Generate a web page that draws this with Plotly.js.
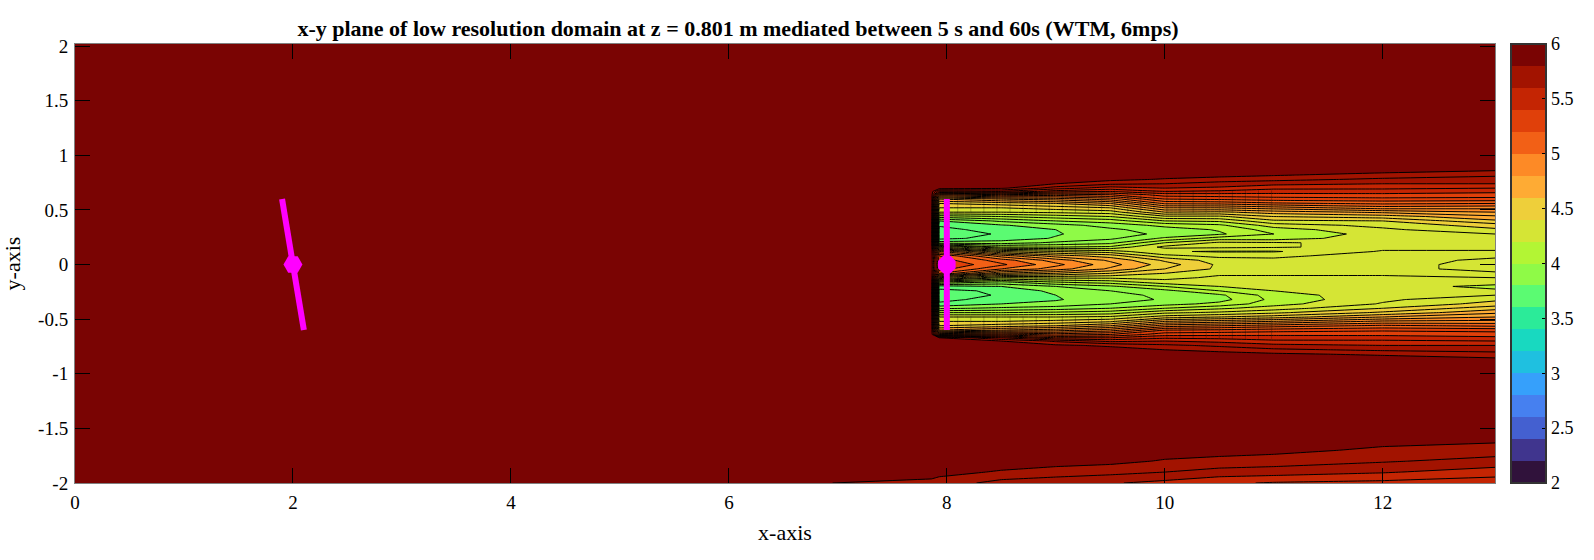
<!DOCTYPE html>
<html><head><meta charset="utf-8">
<script src="https://cdn.plot.ly/plotly-3.0.1.min.js"></script>
<style>html,body{margin:0;padding:0;background:#fff}#c{width:1594px;height:560px}</style>
</head><body><div id="c"></div>
<script>
const titleText = 'x-y plane of low resolution domain at z = 0.801 m mediated between 5 s and 60s (WTM, 6mps)';
const xColumns = [0, 6.8, 7.86, 7.93, 8.5, 9, 9.5, 10, 10.5, 11, 12, 13.03];
const yRows = [2.02,1,0.9,0.86,0.82,0.78,0.74,0.7,0.67,0.64,0.6,0.56,0.52,0.48,0.44,0.4,0.36,0.32,0.28,0.24,0.2,0.16,0.12,0.08,0.04,0,
 -0.04,-0.08,-0.12,-0.16,-0.2,-0.24,-0.28,-0.32,-0.36,-0.4,-0.44,-0.48,-0.52,-0.56,-0.6,-0.64,-0.67,-0.7,-0.74,-0.78,-0.82,-0.86,-0.9,-1,-1.5,-1.6,-1.7,-1.8,-1.9,-2];
const speed = [
[5.85,5.85,5.85,5.85,5.85,5.85,5.85,5.85,5.85,5.85,5.85,5.85],
[5.85,5.85,5.85,5.85,5.85,5.85,5.85,5.85,5.85,5.85,5.85,5.85],
[5.85,5.85,5.85,5.85,5.85,5.85,5.85,5.85,5.85,5.85,5.85,5.85],
[5.85,5.85,5.85,5.85,5.85,5.85,5.85,5.85,5.85,5.85,5.84,5.8],
[5.85,5.85,5.85,5.85,5.85,5.85,5.85,5.85,5.84,5.81,5.76,5.72],
[5.85,5.85,5.85,5.85,5.85,5.85,5.83,5.79,5.75,5.73,5.68,5.65],
[5.85,5.85,5.85,5.85,5.85,5.8,5.72,5.7,5.66,5.63,5.6,5.6],
[5.85,5.85,5.85,5.85,5.82,5.65,5.55,5.6,5.58,5.52,5.52,5.5],
[5.85,5.85,5.85,5.55,5.6,5.45,5.4,5.5,5.48,5.45,5.44,5.42],
[5.85,5.85,5.85,5.1,5.2,5.15,5.2,5.35,5.36,5.37,5.38,5.37],
[5.85,5.85,5.85,4.7,4.8,4.85,4.95,5.2,5.22,5.25,5.27,5.26],
[5.85,5.85,5.85,4.5,4.55,4.6,4.7,5.02,5.03,5.08,5.12,5.1],
[5.85,5.85,5.85,4.4,4.4,4.45,4.5,4.8,4.8,4.85,4.95,4.93],
[5.85,5.85,5.85,4.3,4.3,4.32,4.35,4.6,4.58,4.65,4.72,4.8],
[5.85,5.85,5.85,4.05,4.1,4.15,4.2,4.38,4.38,4.5,4.55,4.68],
[5.85,5.85,5.85,3.8,3.92,4,4.05,4.2,4.22,4.38,4.4,4.58],
[5.85,5.85,5.85,3.71,3.79,3.86,3.94,4.03,4.08,4.25,4.33,4.45],
[5.85,5.85,5.85,3.67,3.74,3.8,3.88,3.95,4.01,4.15,4.28,4.38],
[5.85,5.85,5.85,3.65,3.71,3.79,3.86,3.92,3.985,4.1,4.25,4.3],
[5.85,5.85,5.85,3.67,3.74,3.81,3.88,4.02,4.15,4.15,4.26,4.27],
[5.85,5.85,5.85,3.85,3.85,3.92,3.97,4.2,4.32,4.31,4.27,4.26],
[5.85,5.85,5.85,4.4,4.1,4.1,4.12,4.33,4.32,4.31,4.27,4.27],
[5.85,5.85,5.85,4.9,4.5,4.4,4.35,4.21,4.19,4.19,4.31,4.31],
[5.85,5.85,5.85,5.2,4.85,4.65,4.55,4.33,4.27,4.29,4.32,4.31],
[5.85,5.85,5.85,5.25,5.05,4.85,4.68,4.48,4.35,4.31,4.32,4.29],
[5.85,5.85,5.85,5.3,5.12,4.93,4.74,4.55,4.38,4.33,4.33,4.27],
[5.85,5.85,5.85,5.25,5,4.85,4.68,4.5,4.38,4.33,4.32,4.28],
[5.85,5.85,5.85,5.1,4.7,4.6,4.5,4.4,4.32,4.31,4.31,4.31],
[5.85,5.85,5.85,4.6,4.3,4.32,4.32,4.33,4.28,4.29,4.29,4.3],
[5.85,5.85,5.85,4.1,3.98,4.1,4.15,4.26,4.28,4.28,4.27,4.25],
[5.85,5.85,5.85,3.75,3.8,3.9,3.98,4.1,4.2,4.27,4.25,4.17],
[5.85,5.85,5.85,3.67,3.72,3.83,3.9,3.97,4.1,4.2,4.26,4.22],
[5.85,5.85,5.85,3.65,3.71,3.8,3.87,3.92,3.98,4.15,4.27,4.3],
[5.85,5.85,5.85,3.67,3.74,3.79,3.86,3.91,3.96,4.13,4.28,4.38],
[5.85,5.85,5.85,3.72,3.8,3.83,3.9,3.96,4.03,4.16,4.31,4.44],
[5.85,5.85,5.85,3.88,3.92,3.95,4,4.1,4.18,4.25,4.4,4.56],
[5.85,5.85,5.85,4.1,4.1,4.12,4.15,4.28,4.32,4.38,4.52,4.68],
[5.85,5.85,5.85,4.3,4.3,4.3,4.32,4.45,4.5,4.55,4.7,4.8],
[5.85,5.85,5.85,4.4,4.4,4.43,4.48,4.7,4.75,4.8,4.92,4.93],
[5.85,5.85,5.85,4.5,4.55,4.6,4.7,4.95,5,5.05,5.12,5.08],
[5.85,5.85,5.85,4.7,4.8,4.85,4.95,5.2,5.22,5.25,5.28,5.26],
[5.85,5.85,5.85,5.2,5.25,5.15,5.2,5.36,5.37,5.38,5.38,5.36],
[5.85,5.85,5.85,5.8,5.6,5.4,5.4,5.48,5.47,5.45,5.44,5.42],
[5.85,5.85,5.85,5.85,5.8,5.68,5.57,5.6,5.57,5.52,5.52,5.5],
[5.85,5.85,5.85,5.85,5.85,5.82,5.78,5.72,5.68,5.63,5.6,5.6],
[5.85,5.85,5.85,5.85,5.85,5.85,5.85,5.8,5.76,5.72,5.68,5.66],
[5.85,5.85,5.85,5.85,5.85,5.85,5.85,5.85,5.85,5.82,5.78,5.74],
[5.85,5.85,5.85,5.85,5.85,5.85,5.85,5.85,5.85,5.85,5.85,5.81],
[5.85,5.85,5.85,5.85,5.85,5.85,5.85,5.85,5.85,5.85,5.85,5.85],
[5.85,5.85,5.85,5.85,5.85,5.85,5.85,5.85,5.85,5.85,5.85,5.85],
[5.85,5.85,5.85,5.85,5.85,5.85,5.85,5.85,5.85,5.85,5.85,5.85],
[5.85,5.85,5.85,5.85,5.85,5.85,5.85,5.85,5.85,5.85,5.84,5.825],
[5.85,5.85,5.85,5.85,5.85,5.85,5.85,5.85,5.84,5.83,5.78,5.75],
[5.85,5.85,5.85,5.85,5.85,5.85,5.83,5.79,5.77,5.75,5.71,5.665],
[5.85,5.85,5.85,5.83,5.79,5.75,5.73,5.7,5.66,5.65,5.61,5.55],
[5.85,5.805,5.77,5.76,5.66,5.64,5.61,5.57,5.52,5.49,5.47,5.44]
];
const levelColours = ['#30123b','#40358e','#4460d0','#4680f0','#36a0fb','#1fc0e0','#18d9c0','#2beb99','#5bfb72','#8ffa47','#b3f534','#d5e535','#eecf3a','#feab34','#fd8a26','#f26016','#e0400a','#c42503','#a21300','#7a0403'];
const colourbarTicks = [2,2.5,3,3.5,4,4.5,5,5.5,6];
const xTicks = [0,2,4,6,8,10,12];
const yTicks = [-2,-1.5,-1,-0.5,0,0.5,1,1.5,2];
const turbineOneX = [1.9,2,2.1], turbineOneY = [0.6,0,-0.6];
const turbineTwoX = [8,8,8], turbineTwoY = [0.6,0,-0.6];
const hubX = [2,8], hubY = [0,0], hubSymbols = ['hexagon2','octagon'];
const outerMeshColumns = [8.1,8.22,8.34,8.46,8.58,8.7,8.82,8.94,9.06,9.18,9.3,9.42,9.54,9.66,9.78,9.9,10.02,10.14,10.26,10.38,10.5,10.62,10.74,10.86,10.98];
const outerMeshBands = [[0.47,0.68],[-0.68,-0.47]];
const innerMeshColumns = [8.1,8.22,8.34,8.46,8.58,8.7,8.82,8.94,9.06,9.18,9.3];
const innerMeshBands = [[0.09,0.2],[-0.2,-0.09]];

const scale = [];
levelColours.forEach((c,i)=>{scale.push([i/20,c]);scale.push([(i+1)/20,c]);});
const meshX=[],meshY=[];
outerMeshColumns.forEach(x=>outerMeshBands.forEach(b=>{meshX.push(x,x,null);meshY.push(b[0],b[1],null);}));
innerMeshColumns.forEach(x=>innerMeshBands.forEach(b=>{meshX.push(x,x,null);meshY.push(b[0],b[1],null);}));
const F='"Liberation Serif","Times New Roman",serif';
const traces=[
 {type:'contour',x:xColumns,y:yRows,z:speed,zmin:2,zmax:6,autocontour:false,
  contours:{coloring:'fill',start:2,end:6,size:0.2,showlines:false},line:{width:0,smoothing:0},
  colorscale:scale,hoverinfo:'skip',
  colorbar:{x:1510.7/1594,xref:'container',xanchor:'left',y:0.5,yref:'paper',yanchor:'middle',len:1,lenmode:'fraction',thickness:35,thicknessmode:'pixels',xpad:0,ypad:0,
   tickmode:'array',tickvals:colourbarTicks,ticktext:colourbarTicks.map(String),ticks:'inside',ticklen:5,tickcolor:'#000',
   tickfont:{family:F,size:18,color:'#000'},outlinewidth:2,outlinecolor:'#333',borderwidth:0}},
 {type:'contour',x:xColumns,y:yRows,z:speed,zmin:2,zmax:6,autocontour:false,showscale:false,
  contours:{coloring:'none',start:2,end:6,size:0.1,showlines:true},line:{color:'#000',width:1,smoothing:0},hoverinfo:'skip'},
 {type:'scatter',mode:'lines',x:meshX,y:meshY,line:{color:'rgba(0,0,0,0.25)',width:1},hoverinfo:'skip',showlegend:false},
 {type:'scatter',mode:'lines',x:turbineOneX,y:turbineOneY,line:{color:'#ff00ff',width:6},hoverinfo:'skip',showlegend:false},
 {type:'scatter',mode:'lines',x:turbineTwoX,y:turbineTwoY,line:{color:'#ff00ff',width:6},hoverinfo:'skip',showlegend:false},
 {type:'scatter',mode:'markers',x:hubX,y:hubY,marker:{color:'#ff00ff',size:19,symbol:hubSymbols},hoverinfo:'skip',showlegend:false}
];
const axis={showgrid:false,zeroline:false,showline:true,linecolor:'#808080',linewidth:1,mirror:'allticks',ticks:'inside',ticklen:15,tickcolor:'#000',tickwidth:1,tickfont:{family:F,size:19,color:'#000'},tickmode:'array',ticklabelstandoff:2};
const layout={width:1594,height:560,paper_bgcolor:'#fff',plot_bgcolor:'#7a0403',showlegend:false,
 margin:{l:75,r:99,t:44,b:77},
 title:{text:'<b>'+titleText+'</b>',font:{family:F,size:22,color:'#000'},x:738/1594,xanchor:'center',xref:'container',y:0.949,yanchor:'middle'},
 xaxis:Object.assign({},axis,{range:[0,13.03],tickvals:xTicks,ticktext:xTicks.map(String),title:{text:'x-axis',font:{family:F,size:22,color:'#000'},standoff:12},automargin:false}),
 yaxis:Object.assign({},axis,{range:[-2,2.02],tickvals:yTicks,ticktext:yTicks.map(String),title:{text:'y-axis',font:{family:F,size:22,color:'#000'},standoff:14},automargin:false})
};
Plotly.newPlot('c',traces,layout,{displayModeBar:false,responsive:false});
</script></body></html>
